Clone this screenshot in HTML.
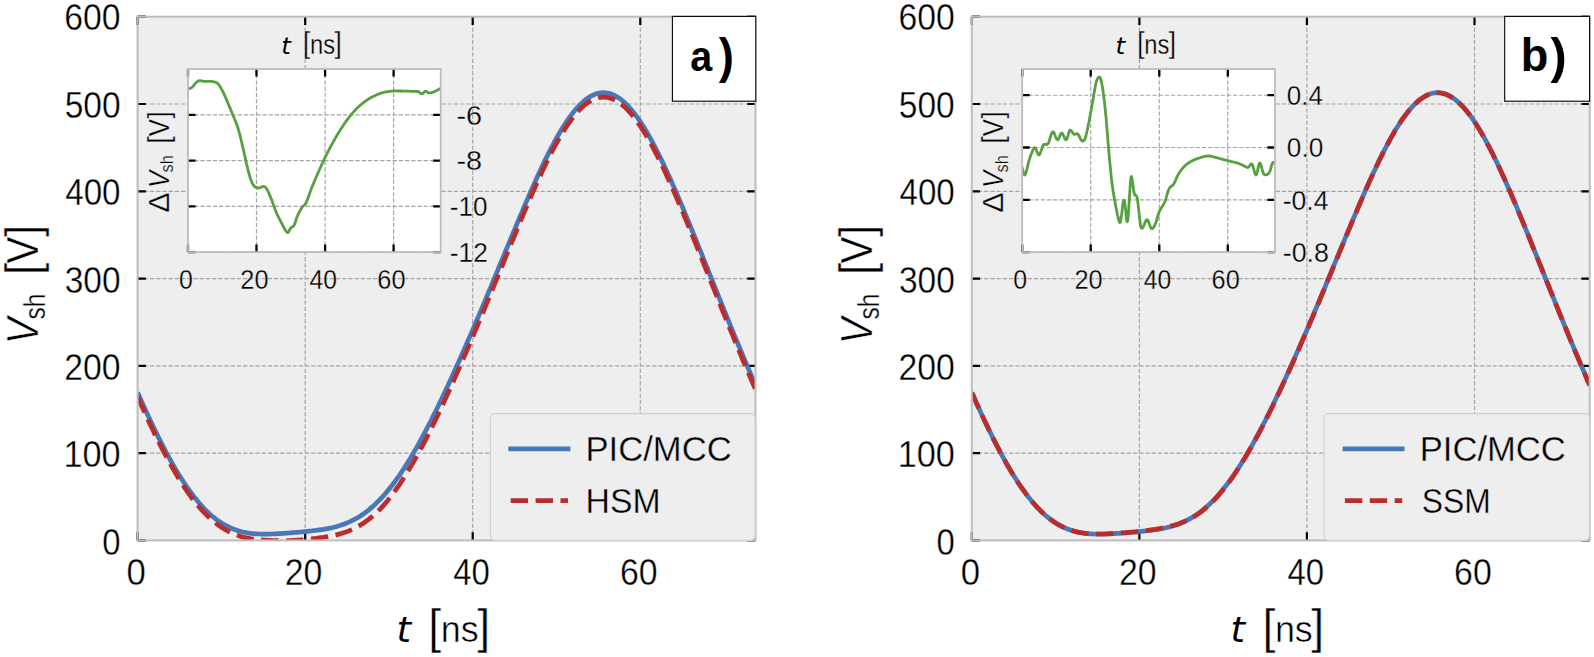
<!DOCTYPE html>
<html lang="en"><head><meta charset="utf-8"><title>Sheath voltage: PIC/MCC vs HSM and SSM</title>
<style>
html,body{margin:0;padding:0;background:#fff;}
body{width:1594px;height:657px;overflow:hidden;}
svg{display:block;font-family:"Liberation Sans",sans-serif;}
</style></head><body>
<svg width="1594" height="657" viewBox="0 0 1594 657">
<rect width="1594" height="657" fill="#fff"/>
<g id="panel-a">
<rect x="137.6" y="16.7" width="617.9" height="523.7" fill="#eeeeee"/>
<path d="M305.2,540.4V16.7M472.7,540.4V16.7M640.3,540.4V16.7M137.6,453.1H755.5M137.6,365.8H755.5M137.6,278.6H755.5M137.6,191.3H755.5M137.6,104.0H755.5" stroke="#a4a4a4" stroke-width="1.15" stroke-dasharray="4.3 1.9" fill="none"/>
<path d="M137.6,540.4v-8.2M137.6,16.7v8.2M305.2,540.4v-8.2M305.2,16.7v8.2M472.7,540.4v-8.2M472.7,16.7v8.2M640.3,540.4v-8.2M640.3,16.7v8.2M137.6,540.4h8.2M755.5,540.4h-8.2M137.6,453.1h8.2M755.5,453.1h-8.2M137.6,365.8h8.2M755.5,365.8h-8.2M137.6,278.6h8.2M755.5,278.6h-8.2M137.6,191.3h8.2M755.5,191.3h-8.2M137.6,104.0h8.2M755.5,104.0h-8.2M137.6,16.7h8.2M755.5,16.7h-8.2" stroke="#000" stroke-width="2.2" fill="none"/>
<clipPath id="clipa"><rect x="137.6" y="16.7" width="617.9" height="523.7"/></clipPath>
<g clip-path="url(#clipa)" fill="none" stroke-linejoin="round">
<path d="M137.6,392.5 L139.7,397.1 L141.7,401.8 L143.8,406.3 L145.9,410.9 L147.9,415.4 L150.0,419.8 L152.1,424.2 L154.1,428.5 L156.2,432.8 L158.3,437.0 L160.3,441.1 L162.4,445.1 L164.5,449.1 L166.5,453.0 L168.6,456.9 L170.7,460.6 L172.7,464.3 L174.8,467.9 L176.9,471.4 L178.9,474.8 L181.0,478.1 L183.1,481.3 L185.1,484.4 L187.2,487.5 L189.3,490.4 L191.3,493.2 L193.4,496.0 L195.5,498.6 L197.5,501.1 L199.6,503.6 L201.7,505.9 L203.7,508.1 L205.8,510.2 L207.9,512.2 L209.9,514.2 L212.0,516.0 L214.1,517.7 L216.1,519.3 L218.2,520.8 L220.3,522.2 L222.3,523.5 L224.4,524.7 L226.5,525.9 L228.5,526.9 L230.6,527.9 L232.7,528.7 L234.7,529.5 L236.8,530.3 L238.9,530.9 L240.9,531.5 L243.0,532.0 L245.1,532.4 L247.1,532.8 L249.2,533.1 L251.3,533.4 L253.3,533.6 L255.4,533.8 L257.5,533.9 L259.5,534.0 L261.6,534.1 L263.7,534.1 L265.7,534.1 L267.8,534.1 L269.9,534.1 L271.9,534.0 L274.0,533.9 L276.1,533.8 L278.1,533.7 L280.2,533.6 L282.3,533.4 L284.3,533.3 L286.4,533.1 L288.5,533.0 L290.5,532.8 L292.6,532.6 L294.7,532.5 L296.7,532.3 L298.8,532.1 L300.9,532.0 L302.9,531.8 L305.0,531.6 L307.1,531.4 L309.1,531.2 L311.2,531.0 L313.3,530.7 L315.3,530.5 L317.4,530.2 L319.5,529.9 L321.5,529.6 L323.6,529.3 L325.7,528.9 L327.7,528.6 L329.8,528.1 L331.9,527.7 L333.9,527.2 L336.0,526.7 L338.1,526.1 L340.1,525.4 L342.2,524.7 L344.3,524.0 L346.3,523.2 L348.4,522.3 L350.5,521.4 L352.5,520.4 L354.6,519.3 L356.7,518.2 L358.7,517.0 L360.8,515.7 L362.9,514.3 L364.9,512.8 L367.0,511.3 L369.1,509.6 L371.1,507.9 L373.2,506.1 L375.3,504.2 L377.3,502.2 L379.4,500.1 L381.5,498.0 L383.5,495.7 L385.6,493.3 L387.7,490.9 L389.7,488.3 L391.8,485.7 L393.9,483.0 L395.9,480.2 L398.0,477.3 L400.1,474.3 L402.1,471.2 L404.2,468.1 L406.3,464.9 L408.3,461.5 L410.4,458.2 L412.5,454.7 L414.5,451.2 L416.6,447.6 L418.7,443.9 L420.7,440.1 L422.8,436.3 L424.9,432.4 L426.9,428.5 L429.0,424.5 L431.1,420.5 L433.1,416.4 L435.2,412.2 L437.3,408.0 L439.3,403.8 L441.4,399.5 L443.5,395.1 L445.5,390.8 L447.6,386.3 L449.6,381.9 L451.7,377.4 L453.8,372.8 L455.8,368.3 L457.9,363.7 L460.0,359.0 L462.0,354.4 L464.1,349.7 L466.2,345.0 L468.2,340.2 L470.3,335.5 L472.4,330.7 L474.4,325.9 L476.5,321.0 L478.6,316.2 L480.6,311.3 L482.7,306.4 L484.8,301.5 L486.8,296.6 L488.9,291.6 L491.0,286.7 L493.0,281.7 L495.1,276.7 L497.2,271.7 L499.2,266.7 L501.3,261.7 L503.4,256.7 L505.4,251.7 L507.5,246.7 L509.6,241.7 L511.6,236.7 L513.7,231.8 L515.8,226.8 L517.8,221.9 L519.9,217.0 L522.0,212.1 L524.0,207.2 L526.1,202.4 L528.2,197.6 L530.2,192.8 L532.3,188.1 L534.4,183.5 L536.4,178.9 L538.5,174.3 L540.6,169.9 L542.6,165.5 L544.7,161.1 L546.8,156.9 L548.8,152.8 L550.9,148.7 L553.0,144.8 L555.0,140.9 L557.1,137.2 L559.2,133.5 L561.2,130.0 L563.3,126.7 L565.4,123.4 L567.4,120.3 L569.5,117.4 L571.6,114.6 L573.6,111.9 L575.7,109.4 L577.8,107.1 L579.8,104.9 L581.9,102.9 L584.0,101.0 L586.0,99.4 L588.1,97.9 L590.2,96.6 L592.2,95.5 L594.3,94.6 L596.4,93.8 L598.4,93.3 L600.5,92.9 L602.6,92.7 L604.6,92.7 L606.7,93.0 L608.8,93.4 L610.8,93.9 L612.9,94.7 L615.0,95.7 L617.0,96.8 L619.1,98.2 L621.2,99.7 L623.2,101.4 L625.3,103.2 L627.4,105.3 L629.4,107.5 L631.5,109.9 L633.6,112.4 L635.6,115.1 L637.7,117.9 L639.8,120.9 L641.8,124.1 L643.9,127.3 L646.0,130.7 L648.0,134.3 L650.1,137.9 L652.2,141.7 L654.2,145.6 L656.3,149.6 L658.4,153.7 L660.4,157.8 L662.5,162.1 L664.6,166.5 L666.6,170.9 L668.7,175.5 L670.8,180.1 L672.8,184.7 L674.9,189.4 L677.0,194.2 L679.0,199.0 L681.1,203.9 L683.2,208.8 L685.2,213.8 L687.3,218.8 L689.4,223.8 L691.4,228.8 L693.5,233.9 L695.6,239.0 L697.6,244.1 L699.7,249.3 L701.8,254.4 L703.8,259.5 L705.9,264.7 L708.0,269.9 L710.0,275.0 L712.1,280.2 L714.2,285.3 L716.2,290.5 L718.3,295.6 L720.4,300.8 L722.4,305.9 L724.5,311.0 L726.6,316.1 L728.6,321.2 L730.7,326.3 L732.8,331.3 L734.8,336.4 L736.9,341.4 L739.0,346.3 L741.0,351.3 L743.1,356.2 L745.2,361.1 L747.2,366.0 L749.3,370.8 L751.4,375.6 L753.4,380.4 L755.5,385.1" stroke="#4878b8" stroke-width="4.7"/>
<path d="M137.6,396.7 L139.7,401.4 L141.7,406.0 L143.8,410.6 L145.9,415.1 L147.9,419.6 L150.0,424.0 L152.1,428.3 L154.1,432.6 L156.2,436.8 L158.3,441.0 L160.3,445.1 L162.4,449.1 L164.5,453.1 L166.5,457.0 L168.6,460.8 L170.7,464.6 L172.7,468.2 L174.8,471.8 L176.9,475.3 L178.9,478.7 L181.0,482.1 L183.1,485.3 L185.1,488.4 L187.2,491.4 L189.3,494.4 L191.3,497.2 L193.4,499.9 L195.5,502.6 L197.5,505.1 L199.6,507.5 L201.7,509.9 L203.7,512.1 L205.8,514.2 L207.9,516.3 L209.9,518.2 L212.0,520.0 L214.1,521.8 L216.1,523.4 L218.2,525.0 L220.3,526.5 L222.3,527.8 L224.4,529.1 L226.5,530.3 L228.5,531.5 L230.6,532.5 L232.7,533.4 L234.7,534.3 L236.8,535.1 L238.9,535.8 L240.9,536.5 L243.0,537.1 L245.1,537.6 L247.1,538.0 L249.2,538.4 L251.3,538.8 L253.3,539.1 L255.4,539.4 L257.5,539.6 L259.5,539.8 L261.6,539.9 L263.7,540.1 L265.7,540.2 L267.8,540.3 L269.9,540.4 L271.9,540.5 L274.0,540.5 L276.1,540.6 L278.1,540.6 L280.2,540.6 L282.3,540.6 L284.3,540.6 L286.4,540.6 L288.5,540.5 L290.5,540.5 L292.6,540.4 L294.7,540.3 L296.7,540.2 L298.8,540.1 L300.9,539.9 L302.9,539.8 L305.0,539.6 L307.1,539.4 L309.1,539.2 L311.2,539.0 L313.3,538.7 L315.3,538.5 L317.4,538.2 L319.5,537.9 L321.5,537.6 L323.6,537.3 L325.7,536.9 L327.7,536.6 L329.8,536.2 L331.9,535.8 L333.9,535.4 L336.0,534.9 L338.1,534.4 L340.1,533.8 L342.2,533.2 L344.3,532.6 L346.3,531.9 L348.4,531.1 L350.5,530.2 L352.5,529.3 L354.6,528.3 L356.7,527.2 L358.7,526.1 L360.8,524.9 L362.9,523.5 L364.9,522.1 L367.0,520.6 L369.1,519.1 L371.1,517.4 L373.2,515.7 L375.3,513.8 L377.3,511.9 L379.4,509.8 L381.5,507.7 L383.5,505.4 L385.6,503.0 L387.7,500.5 L389.7,497.9 L391.8,495.2 L393.9,492.5 L395.9,489.7 L398.0,486.7 L400.1,483.6 L402.1,480.5 L404.2,477.2 L406.3,473.9 L408.3,470.5 L410.4,467.1 L412.5,463.6 L414.5,460.0 L416.6,456.3 L418.7,452.6 L420.7,448.8 L422.8,445.0 L424.9,441.1 L426.9,437.1 L429.0,433.0 L431.1,428.9 L433.1,424.7 L435.2,420.4 L437.3,416.2 L439.3,411.8 L441.4,407.4 L443.5,403.0 L445.5,398.6 L447.6,394.1 L449.6,389.5 L451.7,385.0 L453.8,380.4 L455.8,375.7 L457.9,371.0 L460.0,366.3 L462.0,361.6 L464.1,356.9 L466.2,352.1 L468.2,347.3 L470.3,342.4 L472.4,337.6 L474.4,332.7 L476.5,327.8 L478.6,322.9 L480.6,317.9 L482.7,313.0 L484.8,308.0 L486.8,303.0 L488.9,298.0 L491.0,293.0 L493.0,287.9 L495.1,282.9 L497.2,277.9 L499.2,272.8 L501.3,267.8 L503.4,262.7 L505.4,257.7 L507.5,252.6 L509.6,247.6 L511.6,242.5 L513.7,237.5 L515.8,232.5 L517.8,227.5 L519.9,222.5 L522.0,217.6 L524.0,212.7 L526.1,207.8 L528.2,203.0 L530.2,198.2 L532.3,193.4 L534.4,188.7 L536.4,184.1 L538.5,179.5 L540.6,175.0 L542.6,170.6 L544.7,166.2 L546.8,162.0 L548.8,157.8 L550.9,153.7 L553.0,149.7 L555.0,145.8 L557.1,142.1 L559.2,138.4 L561.2,134.9 L563.3,131.5 L565.4,128.2 L567.4,125.1 L569.5,122.1 L571.6,119.3 L573.6,116.6 L575.7,114.1 L577.8,111.7 L579.8,109.5 L581.9,107.5 L584.0,105.6 L586.0,104.0 L588.1,102.5 L590.2,101.1 L592.2,100.0 L594.3,99.1 L596.4,98.3 L598.4,97.7 L600.5,97.4 L602.6,97.2 L604.6,97.2 L606.7,97.4 L608.8,97.8 L610.8,98.4 L612.9,99.1 L615.0,100.1 L617.0,101.2 L619.1,102.5 L621.2,104.1 L623.2,105.7 L625.3,107.6 L627.4,109.6 L629.4,111.8 L631.5,114.2 L633.6,116.7 L635.6,119.4 L637.7,122.3 L639.8,125.3 L641.8,128.4 L643.9,131.7 L646.0,135.1 L648.0,138.6 L650.1,142.2 L652.2,146.0 L654.2,149.9 L656.3,153.9 L658.4,158.0 L660.4,162.2 L662.5,166.5 L664.6,170.8 L666.6,175.3 L668.7,179.8 L670.8,184.4 L672.8,189.1 L674.9,193.8 L677.0,198.5 L679.0,203.4 L681.1,208.2 L683.2,213.2 L685.2,218.1 L687.3,223.1 L689.4,228.1 L691.4,233.2 L693.5,238.3 L695.6,243.4 L697.6,248.5 L699.7,253.6 L701.8,258.8 L703.8,263.9 L705.9,269.1 L708.0,274.3 L710.0,279.5 L712.1,284.6 L714.2,289.7 L716.2,294.8 L718.3,300.0 L720.4,305.1 L722.4,310.3 L724.5,315.4 L726.6,320.5 L728.6,325.6 L730.7,330.7 L732.8,335.7 L734.8,340.7 L736.9,345.7 L739.0,350.7 L741.0,355.6 L743.1,360.6 L745.2,365.4 L747.2,370.3 L749.3,375.1 L751.4,379.9 L753.4,384.6 L755.5,389.3" stroke="#bb2c2c" stroke-width="4.7" stroke-dasharray="17.4 7.5"/>
</g>
<rect x="137.6" y="16.7" width="617.9" height="523.7" fill="none" stroke="#bcbcbc" stroke-width="2.0"/>
<text transform="translate(102.28,554.50) scale(0.8879,1)" font-size="37.03" fill="#000" stroke="#fff" stroke-width="0.35">0</text>
<text transform="translate(63.43,467.22) scale(0.9256,1)" font-size="37.03" fill="#000" stroke="#fff" stroke-width="0.35">100</text>
<text transform="translate(64.31,379.93) scale(0.9110,1)" font-size="37.03" fill="#000" stroke="#fff" stroke-width="0.35">200</text>
<text transform="translate(64.74,292.65) scale(0.9038,1)" font-size="37.03" fill="#000" stroke="#fff" stroke-width="0.35">300</text>
<text transform="translate(65.25,205.37) scale(0.8954,1)" font-size="37.03" fill="#000" stroke="#fff" stroke-width="0.35">400</text>
<text transform="translate(64.66,118.08) scale(0.9052,1)" font-size="37.03" fill="#000" stroke="#fff" stroke-width="0.35">500</text>
<text transform="translate(64.31,30.00) scale(0.9110,1)" font-size="37.03" fill="#000" stroke="#fff" stroke-width="0.35">600</text>
<text transform="translate(126.51,584.90) scale(0.9388,1)" font-size="37.03" fill="#000" stroke="#fff" stroke-width="0.35">0</text>
<text transform="translate(284.77,584.90) scale(0.9138,1)" font-size="37.03" fill="#000" stroke="#fff" stroke-width="0.35">20</text>
<text transform="translate(453.29,584.90) scale(0.8898,1)" font-size="37.03" fill="#000" stroke="#fff" stroke-width="0.35">40</text>
<text transform="translate(619.91,584.90) scale(0.9138,1)" font-size="37.03" fill="#000" stroke="#fff" stroke-width="0.35">60</text>
<text transform="translate(396.38,642.40) scale(1.0289,1)" font-size="36.16" font-style="italic" font-family="DejaVu Sans, Liberation Sans, sans-serif" fill="#000">t</text>
<text transform="translate(431.50,642.20) scale(0.9650,1)" stroke="#fff" stroke-width="0.5"><tspan x="-3.38" y="1.19" font-size="48.26">[</tspan><tspan x="9.51" y="0.00" font-size="37.21">ns</tspan><tspan x="47.29" y="1.19" font-size="48.26">]</tspan></text>
<text transform="translate(37.80,344.17) rotate(-90) scale(0.8832,1)" font-size="44.95" font-style="italic" fill="#000" stroke="#fff" stroke-width="0.5">V</text>
<text transform="translate(45.10,319.58) rotate(-90) scale(0.8205,1)" font-size="29.93" fill="#000" stroke="#fff" stroke-width="0.35">sh</text>
<text transform="translate(37.80,271.80) rotate(-90) scale(0.9035,1)" stroke="#fff" stroke-width="0.5"><tspan x="-3.38" y="1.19" font-size="48.26">[</tspan><tspan x="8.96" y="0.00" font-size="44.95">V</tspan><tspan x="38.58" y="1.19" font-size="48.26">]</tspan></text>
<rect x="188.0" y="69.0" width="252.7" height="183.1" fill="#fff"/>
<path d="M256.5,252.1V69.0M325.1,252.1V69.0M393.6,252.1V69.0M188.0,114.8H440.7M188.0,160.6H440.7M188.0,206.3H440.7M188.0,252.1H440.7" stroke="#a4a4a4" stroke-width="1.15" stroke-dasharray="4.3 1.9" fill="none"/>
<clipPath id="iclipa"><rect x="188.0" y="69.0" width="252.7" height="183.1"/></clipPath>
<path clip-path="url(#iclipa)" d="M188.0,88.5 L188.4,88.6 L188.8,88.6 L189.3,88.5 L189.7,88.5 L190.1,88.4 L190.5,88.2 L191.0,88.0 L191.4,87.8 L191.8,87.5 L192.2,87.2 L192.6,86.7 L193.1,86.3 L193.5,85.7 L193.9,85.2 L194.3,84.6 L194.7,84.1 L195.2,83.6 L195.6,83.2 L196.0,82.8 L196.4,82.4 L196.9,82.1 L197.3,81.7 L197.7,81.4 L198.1,81.1 L198.5,80.9 L199.0,80.8 L199.4,80.7 L199.8,80.7 L200.2,80.7 L200.7,80.8 L201.1,80.8 L201.5,80.9 L201.9,81.0 L202.3,81.1 L202.8,81.1 L203.2,81.2 L203.6,81.3 L204.0,81.3 L204.5,81.3 L204.9,81.3 L205.3,81.3 L205.7,81.3 L206.1,81.3 L206.6,81.3 L207.0,81.3 L207.4,81.3 L207.8,81.3 L208.2,81.3 L208.7,81.3 L209.1,81.3 L209.5,81.3 L209.9,81.3 L210.4,81.3 L210.8,81.3 L211.2,81.3 L211.6,81.4 L212.0,81.4 L212.5,81.5 L212.9,81.6 L213.3,81.7 L213.7,81.8 L214.2,81.9 L214.6,82.0 L215.0,82.1 L215.4,82.2 L215.8,82.4 L216.3,82.5 L216.7,82.7 L217.1,83.0 L217.5,83.4 L218.0,83.8 L218.4,84.2 L218.8,84.7 L219.2,85.3 L219.6,85.9 L220.1,86.6 L220.5,87.3 L220.9,88.0 L221.3,88.8 L221.7,89.5 L222.2,90.3 L222.6,91.1 L223.0,92.0 L223.4,92.8 L223.9,93.7 L224.3,94.6 L224.7,95.5 L225.1,96.5 L225.5,97.5 L226.0,98.4 L226.4,99.4 L226.8,100.4 L227.2,101.4 L227.7,102.4 L228.1,103.4 L228.5,104.4 L228.9,105.4 L229.3,106.5 L229.8,107.5 L230.2,108.5 L230.6,109.5 L231.0,110.6 L231.5,111.6 L231.9,112.6 L232.3,113.7 L232.7,114.7 L233.1,115.7 L233.6,116.7 L234.0,117.7 L234.4,118.7 L234.8,119.7 L235.2,120.7 L235.7,121.8 L236.1,122.8 L236.5,123.9 L236.9,125.1 L237.4,126.3 L237.8,127.5 L238.2,128.8 L238.6,130.2 L239.0,131.7 L239.5,133.3 L239.9,134.9 L240.3,136.6 L240.7,138.4 L241.2,140.2 L241.6,142.0 L242.0,143.8 L242.4,145.7 L242.8,147.5 L243.3,149.3 L243.7,151.1 L244.1,152.9 L244.5,154.8 L245.0,156.6 L245.4,158.5 L245.8,160.3 L246.2,162.2 L246.6,164.0 L247.1,165.8 L247.5,167.6 L247.9,169.4 L248.3,171.1 L248.7,172.8 L249.2,174.3 L249.6,175.8 L250.0,177.2 L250.4,178.5 L250.9,179.7 L251.3,180.8 L251.7,181.9 L252.1,182.9 L252.5,183.7 L253.0,184.5 L253.4,185.2 L253.8,185.7 L254.2,186.2 L254.7,186.6 L255.1,186.9 L255.5,187.1 L255.9,187.3 L256.3,187.5 L256.8,187.6 L257.2,187.8 L257.6,187.8 L258.0,187.9 L258.5,187.9 L258.9,188.0 L259.3,187.9 L259.7,187.8 L260.1,187.7 L260.6,187.5 L261.0,187.3 L261.4,187.1 L261.8,186.9 L262.2,186.7 L262.7,186.6 L263.1,186.5 L263.5,186.4 L263.9,186.5 L264.4,186.6 L264.8,186.8 L265.2,187.0 L265.6,187.4 L266.0,187.9 L266.5,188.4 L266.9,189.1 L267.3,189.9 L267.7,190.8 L268.2,191.7 L268.6,192.6 L269.0,193.6 L269.4,194.5 L269.8,195.5 L270.3,196.5 L270.7,197.6 L271.1,198.6 L271.5,199.7 L272.0,200.7 L272.4,201.8 L272.8,203.0 L273.2,204.1 L273.6,205.3 L274.1,206.4 L274.5,207.6 L274.9,208.8 L275.3,209.9 L275.7,211.0 L276.2,212.0 L276.6,213.1 L277.0,214.0 L277.4,215.0 L277.9,215.9 L278.3,216.8 L278.7,217.6 L279.1,218.4 L279.5,219.3 L280.0,220.1 L280.4,220.8 L280.8,221.6 L281.2,222.4 L281.7,223.2 L282.1,224.0 L282.5,224.8 L282.9,225.6 L283.3,226.5 L283.8,227.3 L284.2,228.1 L284.6,228.9 L285.0,229.6 L285.5,230.3 L285.9,231.0 L286.3,231.5 L286.7,232.0 L287.1,232.3 L287.6,232.6 L288.0,232.5 L288.4,232.1 L288.8,231.5 L289.2,230.7 L289.7,229.8 L290.1,229.0 L290.5,228.2 L290.9,227.7 L291.4,227.4 L291.8,227.2 L292.2,227.0 L292.6,226.8 L293.0,226.6 L293.5,226.2 L293.9,225.7 L294.3,224.8 L294.7,223.8 L295.2,222.6 L295.6,221.3 L296.0,220.0 L296.4,218.6 L296.8,217.4 L297.3,216.3 L297.7,215.3 L298.1,214.5 L298.5,213.6 L299.0,212.8 L299.4,211.9 L299.8,211.1 L300.2,210.4 L300.6,209.6 L301.1,208.9 L301.5,208.2 L301.9,207.5 L302.3,206.8 L302.7,206.4 L303.2,206.0 L303.6,205.7 L304.0,205.4 L304.4,205.1 L304.9,204.7 L305.3,204.2 L305.7,203.5 L306.1,202.7 L306.5,201.7 L307.0,200.7 L307.4,199.6 L307.8,198.5 L308.2,197.4 L308.7,196.2 L309.1,195.0 L309.5,193.8 L309.9,192.6 L310.3,191.4 L310.8,190.2 L311.2,189.1 L311.6,188.0 L312.0,186.9 L312.5,185.9 L312.9,184.9 L313.3,183.9 L313.7,182.9 L314.1,181.9 L314.6,181.0 L315.0,180.0 L315.4,179.0 L315.8,178.0 L316.2,177.0 L316.7,176.1 L317.1,175.1 L317.5,174.1 L317.9,173.1 L318.4,172.2 L318.8,171.2 L319.2,170.3 L319.6,169.3 L320.0,168.4 L320.5,167.4 L320.9,166.5 L321.3,165.5 L321.7,164.6 L322.2,163.7 L322.6,162.8 L323.0,161.9 L323.4,161.0 L323.8,160.1 L324.3,159.2 L324.7,158.3 L325.1,157.5 L325.5,156.6 L326.0,155.8 L326.4,154.9 L326.8,154.1 L327.2,153.2 L327.6,152.4 L328.1,151.6 L328.5,150.8 L328.9,149.9 L329.3,149.1 L329.7,148.3 L330.2,147.5 L330.6,146.7 L331.0,145.9 L331.4,145.2 L331.9,144.4 L332.3,143.6 L332.7,142.8 L333.1,142.1 L333.5,141.3 L334.0,140.6 L334.4,139.8 L334.8,139.1 L335.2,138.3 L335.7,137.6 L336.1,136.9 L336.5,136.2 L336.9,135.4 L337.3,134.7 L337.8,134.0 L338.2,133.3 L338.6,132.6 L339.0,132.0 L339.5,131.3 L339.9,130.6 L340.3,129.9 L340.7,129.3 L341.1,128.6 L341.6,127.9 L342.0,127.3 L342.4,126.7 L342.8,126.0 L343.2,125.4 L343.7,124.8 L344.1,124.2 L344.5,123.5 L344.9,122.9 L345.4,122.3 L345.8,121.7 L346.2,121.2 L346.6,120.6 L347.0,120.0 L347.5,119.4 L347.9,118.9 L348.3,118.3 L348.7,117.8 L349.2,117.2 L349.6,116.7 L350.0,116.2 L350.4,115.6 L350.8,115.1 L351.3,114.6 L351.7,114.1 L352.1,113.6 L352.5,113.1 L353.0,112.6 L353.4,112.1 L353.8,111.7 L354.2,111.2 L354.6,110.7 L355.1,110.3 L355.5,109.8 L355.9,109.4 L356.3,109.0 L356.7,108.5 L357.2,108.1 L357.6,107.7 L358.0,107.3 L358.4,106.9 L358.9,106.5 L359.3,106.1 L359.7,105.7 L360.1,105.4 L360.5,105.0 L361.0,104.7 L361.4,104.3 L361.8,104.0 L362.2,103.6 L362.7,103.3 L363.1,102.9 L363.5,102.6 L363.9,102.3 L364.3,102.0 L364.8,101.7 L365.2,101.4 L365.6,101.1 L366.0,100.8 L366.5,100.5 L366.9,100.2 L367.3,99.9 L367.7,99.6 L368.1,99.3 L368.6,99.1 L369.0,98.8 L369.4,98.6 L369.8,98.3 L370.2,98.1 L370.7,97.8 L371.1,97.6 L371.5,97.4 L371.9,97.1 L372.4,96.9 L372.8,96.7 L373.2,96.5 L373.6,96.3 L374.0,96.1 L374.5,95.9 L374.9,95.7 L375.3,95.5 L375.7,95.3 L376.2,95.1 L376.6,94.9 L377.0,94.7 L377.4,94.5 L377.8,94.3 L378.3,94.2 L378.7,94.0 L379.1,93.8 L379.5,93.7 L380.0,93.5 L380.4,93.4 L380.8,93.2 L381.2,93.1 L381.6,92.9 L382.1,92.8 L382.5,92.7 L382.9,92.6 L383.3,92.5 L383.7,92.4 L384.2,92.3 L384.6,92.2 L385.0,92.1 L385.4,92.0 L385.9,92.0 L386.3,91.9 L386.7,91.8 L387.1,91.8 L387.5,91.7 L388.0,91.6 L388.4,91.6 L388.8,91.5 L389.2,91.4 L389.7,91.4 L390.1,91.3 L390.5,91.3 L390.9,91.2 L391.3,91.2 L391.8,91.1 L392.2,91.1 L392.6,91.1 L393.0,91.0 L393.5,91.0 L393.9,91.0 L394.3,91.0 L394.7,90.9 L395.1,90.9 L395.6,90.9 L396.0,90.9 L396.4,90.9 L396.8,90.9 L397.2,90.9 L397.7,90.9 L398.1,91.0 L398.5,91.0 L398.9,91.0 L399.4,91.0 L399.8,91.0 L400.2,91.0 L400.6,91.0 L401.0,91.0 L401.5,91.0 L401.9,91.0 L402.3,91.1 L402.7,91.1 L403.2,91.1 L403.6,91.1 L404.0,91.1 L404.4,91.1 L404.8,91.1 L405.3,91.1 L405.7,91.1 L406.1,91.2 L406.5,91.2 L407.0,91.2 L407.4,91.2 L407.8,91.2 L408.2,91.2 L408.6,91.2 L409.1,91.2 L409.5,91.2 L409.9,91.3 L410.3,91.3 L410.7,91.3 L411.2,91.3 L411.6,91.3 L412.0,91.3 L412.4,91.3 L412.9,91.3 L413.3,91.4 L413.7,91.4 L414.1,91.4 L414.5,91.4 L415.0,91.4 L415.4,91.4 L415.8,91.4 L416.2,91.5 L416.7,91.5 L417.1,91.5 L417.5,91.5 L417.9,91.5 L418.3,91.6 L418.8,91.8 L419.2,92.1 L419.6,92.4 L420.0,92.8 L420.5,93.2 L420.9,93.6 L421.3,93.8 L421.7,93.9 L422.1,93.9 L422.6,93.7 L423.0,93.3 L423.4,92.9 L423.8,92.4 L424.2,92.0 L424.7,91.6 L425.1,91.3 L425.5,91.2 L425.9,91.3 L426.4,91.5 L426.8,91.7 L427.2,92.0 L427.6,92.3 L428.0,92.6 L428.5,92.8 L428.9,93.0 L429.3,93.1 L429.7,93.0 L430.2,92.9 L430.6,92.8 L431.0,92.8 L431.4,92.7 L431.8,92.6 L432.3,92.4 L432.7,92.3 L433.1,92.2 L433.5,92.0 L434.0,91.8 L434.4,91.7 L434.8,91.5 L435.2,91.2 L435.6,91.0 L436.1,90.8 L436.5,90.6 L436.9,90.4 L437.3,90.2 L437.7,90.0 L438.2,89.7 L438.6,89.5 L439.0,89.3 L439.4,89.0 L439.9,88.8 L440.3,88.5 L440.7,88.2" stroke="#55a040" stroke-width="2.8" fill="none" stroke-linejoin="round"/>
<path d="M188.0,252.1v-7.5M188.0,69.0v7.5M256.5,252.1v-7.5M256.5,69.0v7.5M325.1,252.1v-7.5M325.1,69.0v7.5M393.6,252.1v-7.5M393.6,69.0v7.5M188.0,114.8h7.5M440.7,114.8h-7.5M188.0,160.6h7.5M440.7,160.6h-7.5M188.0,206.3h7.5M440.7,206.3h-7.5M188.0,252.1h7.5M440.7,252.1h-7.5" stroke="#000" stroke-width="2.3" fill="none"/>
<rect x="188.0" y="69.0" width="252.7" height="183.1" fill="none" stroke="#bcbcbc" stroke-width="1.8"/>
<text transform="translate(179.05,288.80) scale(0.9183,1)" font-size="27.14" fill="#000" stroke="#eeeeee" stroke-width="0.3">0</text>
<text transform="translate(240.31,288.80) scale(0.9334,1)" font-size="27.14" fill="#000" stroke="#eeeeee" stroke-width="0.3">20</text>
<text transform="translate(309.55,288.80) scale(0.9089,1)" font-size="27.14" fill="#000" stroke="#eeeeee" stroke-width="0.3">40</text>
<text transform="translate(377.37,288.80) scale(0.9334,1)" font-size="27.14" fill="#000" stroke="#eeeeee" stroke-width="0.3">60</text>
<text transform="translate(456.40,124.68) scale(1.0640,1)" font-size="27.14" fill="#000" stroke="#eeeeee" stroke-width="0.3">-6</text>
<text transform="translate(456.40,170.45) scale(1.0640,1)" font-size="27.14" fill="#000" stroke="#eeeeee" stroke-width="0.3">-8</text>
<text transform="translate(449.82,216.22) scale(0.9628,1)" font-size="27.14" fill="#000" stroke="#eeeeee" stroke-width="0.3">-10</text>
<text transform="translate(449.81,262.00) scale(0.9717,1)" font-size="27.14" fill="#000" stroke="#eeeeee" stroke-width="0.3">-12</text>
<text transform="translate(281.30,53.60) scale(1.0480,1)" font-size="23.49" font-style="italic" font-family="DejaVu Sans, Liberation Sans, sans-serif" fill="#000">t</text>
<text transform="translate(304.90,53.50) scale(0.8735,1)" stroke="#eeeeee" stroke-width="0.3"><tspan x="-2.08" y="-0.06" font-size="29.71">[</tspan><tspan x="5.95" y="0.00" font-size="27.16">ns</tspan><tspan x="34.02" y="-0.06" font-size="29.71">]</tspan></text>
<text transform="translate(169.10,212.72) rotate(-90) scale(1.0318,1)" font-size="29.67" fill="#000" stroke="#eeeeee" stroke-width="0.3">Δ</text>
<text transform="translate(169.10,188.04) rotate(-90) scale(0.8611,1)" font-size="29.67" font-style="italic" fill="#000" stroke="#eeeeee" stroke-width="0.3">V</text>
<text transform="translate(173.30,172.55) rotate(-90) scale(0.8728,1)" font-size="18.76" fill="#000" stroke="#eeeeee" stroke-width="0.25">sh</text>
<text transform="translate(169.10,141.60) rotate(-90) scale(0.8714,1)" stroke="#eeeeee" stroke-width="0.3"><tspan x="-2.08" y="-0.06" font-size="29.71">[</tspan><tspan x="6.05" y="0.00" font-size="29.67">V</tspan><tspan x="26.43" y="-0.06" font-size="29.71">]</tspan></text>
<rect x="490.4" y="413.7" width="264.7" height="126.6" rx="4.5" fill="#eeeeee" stroke="#d0d0d0" stroke-width="1.2"/>
<path d="M508.3,448.9H570.4" stroke="#4878b8" stroke-width="4.7"/>
<path d="M510.7,500.6H568.0" stroke="#bb2c2c" stroke-width="4.7" stroke-dasharray="17.4 7.5"/>
<text transform="translate(585.54,461.00) scale(0.9634,1)" font-size="35.93" fill="#000" stroke="#eeeeee" stroke-width="0.35">PIC/MCC</text>
<text transform="translate(585.61,512.60) scale(0.9402,1)" font-size="35.93" fill="#000" stroke="#eeeeee" stroke-width="0.35">HSM</text>
<rect x="672.4" y="16.4" width="83.4" height="84.8" fill="#fff" stroke="#000" stroke-width="1.1"/>
<text transform="translate(691.40,71.00) scale(0.9149,1)"><tspan x="-1.29" y="0.00" font-size="43.11" font-weight="bold">a</tspan><tspan x="29.99" y="1.58" font-size="49.76" font-weight="bold">)</tspan></text>
</g>
<g id="panel-b">
<rect x="971.8" y="16.7" width="617.9" height="523.7" fill="#eeeeee"/>
<path d="M1139.4,540.4V16.7M1306.9,540.4V16.7M1474.5,540.4V16.7M971.8,453.1H1589.7M971.8,365.8H1589.7M971.8,278.6H1589.7M971.8,191.3H1589.7M971.8,104.0H1589.7" stroke="#a4a4a4" stroke-width="1.15" stroke-dasharray="4.3 1.9" fill="none"/>
<path d="M971.8,540.4v-8.2M971.8,16.7v8.2M1139.4,540.4v-8.2M1139.4,16.7v8.2M1306.9,540.4v-8.2M1306.9,16.7v8.2M1474.5,540.4v-8.2M1474.5,16.7v8.2M971.8,540.4h8.2M1589.7,540.4h-8.2M971.8,453.1h8.2M1589.7,453.1h-8.2M971.8,365.8h8.2M1589.7,365.8h-8.2M971.8,278.6h8.2M1589.7,278.6h-8.2M971.8,191.3h8.2M1589.7,191.3h-8.2M971.8,104.0h8.2M1589.7,104.0h-8.2M971.8,16.7h8.2M1589.7,16.7h-8.2" stroke="#000" stroke-width="2.2" fill="none"/>
<clipPath id="clipb"><rect x="971.8" y="16.7" width="617.9" height="523.7"/></clipPath>
<g clip-path="url(#clipb)" fill="none" stroke-linejoin="round">
<path d="M971.8,392.5 L973.9,397.1 L975.9,401.8 L978.0,406.3 L980.1,410.9 L982.1,415.4 L984.2,419.8 L986.3,424.2 L988.3,428.5 L990.4,432.8 L992.5,437.0 L994.5,441.1 L996.6,445.1 L998.7,449.1 L1000.7,453.0 L1002.8,456.9 L1004.9,460.6 L1006.9,464.3 L1009.0,467.9 L1011.1,471.4 L1013.1,474.8 L1015.2,478.1 L1017.3,481.3 L1019.3,484.4 L1021.4,487.5 L1023.5,490.4 L1025.5,493.2 L1027.6,496.0 L1029.7,498.6 L1031.7,501.1 L1033.8,503.6 L1035.9,505.9 L1037.9,508.1 L1040.0,510.2 L1042.1,512.2 L1044.1,514.2 L1046.2,516.0 L1048.3,517.7 L1050.3,519.3 L1052.4,520.8 L1054.5,522.2 L1056.5,523.5 L1058.6,524.7 L1060.7,525.9 L1062.7,526.9 L1064.8,527.9 L1066.9,528.7 L1068.9,529.5 L1071.0,530.3 L1073.1,530.9 L1075.1,531.5 L1077.2,532.0 L1079.3,532.4 L1081.3,532.8 L1083.4,533.1 L1085.5,533.4 L1087.5,533.6 L1089.6,533.8 L1091.7,533.9 L1093.7,534.0 L1095.8,534.1 L1097.9,534.1 L1099.9,534.1 L1102.0,534.1 L1104.1,534.1 L1106.1,534.0 L1108.2,533.9 L1110.3,533.8 L1112.3,533.7 L1114.4,533.6 L1116.5,533.4 L1118.5,533.3 L1120.6,533.1 L1122.7,533.0 L1124.7,532.8 L1126.8,532.6 L1128.9,532.5 L1130.9,532.3 L1133.0,532.1 L1135.1,532.0 L1137.1,531.8 L1139.2,531.6 L1141.3,531.4 L1143.3,531.2 L1145.4,531.0 L1147.5,530.7 L1149.5,530.5 L1151.6,530.2 L1153.7,529.9 L1155.7,529.6 L1157.8,529.3 L1159.9,528.9 L1161.9,528.6 L1164.0,528.1 L1166.1,527.7 L1168.1,527.2 L1170.2,526.7 L1172.3,526.1 L1174.3,525.4 L1176.4,524.7 L1178.5,524.0 L1180.5,523.2 L1182.6,522.3 L1184.7,521.4 L1186.7,520.4 L1188.8,519.3 L1190.9,518.2 L1192.9,517.0 L1195.0,515.7 L1197.1,514.3 L1199.1,512.8 L1201.2,511.3 L1203.3,509.6 L1205.3,507.9 L1207.4,506.1 L1209.5,504.2 L1211.5,502.2 L1213.6,500.1 L1215.7,498.0 L1217.7,495.7 L1219.8,493.3 L1221.9,490.9 L1223.9,488.3 L1226.0,485.7 L1228.1,483.0 L1230.1,480.2 L1232.2,477.3 L1234.3,474.3 L1236.3,471.2 L1238.4,468.1 L1240.5,464.9 L1242.5,461.5 L1244.6,458.2 L1246.7,454.7 L1248.7,451.2 L1250.8,447.6 L1252.9,443.9 L1254.9,440.1 L1257.0,436.3 L1259.1,432.4 L1261.1,428.5 L1263.2,424.5 L1265.3,420.5 L1267.3,416.4 L1269.4,412.2 L1271.5,408.0 L1273.5,403.8 L1275.6,399.5 L1277.7,395.1 L1279.7,390.8 L1281.8,386.3 L1283.8,381.9 L1285.9,377.4 L1288.0,372.8 L1290.0,368.3 L1292.1,363.7 L1294.2,359.0 L1296.2,354.4 L1298.3,349.7 L1300.4,345.0 L1302.4,340.2 L1304.5,335.5 L1306.6,330.7 L1308.6,325.9 L1310.7,321.0 L1312.8,316.2 L1314.8,311.3 L1316.9,306.4 L1319.0,301.5 L1321.0,296.6 L1323.1,291.6 L1325.2,286.7 L1327.2,281.7 L1329.3,276.7 L1331.4,271.7 L1333.4,266.7 L1335.5,261.7 L1337.6,256.7 L1339.6,251.7 L1341.7,246.7 L1343.8,241.7 L1345.8,236.7 L1347.9,231.8 L1350.0,226.8 L1352.0,221.9 L1354.1,217.0 L1356.2,212.1 L1358.2,207.2 L1360.3,202.4 L1362.4,197.6 L1364.4,192.8 L1366.5,188.1 L1368.6,183.5 L1370.6,178.9 L1372.7,174.3 L1374.8,169.9 L1376.8,165.5 L1378.9,161.1 L1381.0,156.9 L1383.0,152.8 L1385.1,148.7 L1387.2,144.8 L1389.2,140.9 L1391.3,137.2 L1393.4,133.5 L1395.4,130.0 L1397.5,126.7 L1399.6,123.4 L1401.6,120.3 L1403.7,117.4 L1405.8,114.6 L1407.8,111.9 L1409.9,109.4 L1412.0,107.1 L1414.0,104.9 L1416.1,102.9 L1418.2,101.0 L1420.2,99.4 L1422.3,97.9 L1424.4,96.6 L1426.4,95.5 L1428.5,94.6 L1430.6,93.8 L1432.6,93.3 L1434.7,92.9 L1436.8,92.7 L1438.8,92.7 L1440.9,93.0 L1443.0,93.4 L1445.0,93.9 L1447.1,94.7 L1449.2,95.7 L1451.2,96.8 L1453.3,98.2 L1455.4,99.7 L1457.4,101.4 L1459.5,103.2 L1461.6,105.3 L1463.6,107.5 L1465.7,109.9 L1467.8,112.4 L1469.8,115.1 L1471.9,117.9 L1474.0,120.9 L1476.0,124.1 L1478.1,127.3 L1480.2,130.7 L1482.2,134.3 L1484.3,137.9 L1486.4,141.7 L1488.4,145.6 L1490.5,149.6 L1492.6,153.7 L1494.6,157.8 L1496.7,162.1 L1498.8,166.5 L1500.8,170.9 L1502.9,175.5 L1505.0,180.1 L1507.0,184.7 L1509.1,189.4 L1511.2,194.2 L1513.2,199.0 L1515.3,203.9 L1517.4,208.8 L1519.4,213.8 L1521.5,218.8 L1523.6,223.8 L1525.6,228.8 L1527.7,233.9 L1529.8,239.0 L1531.8,244.1 L1533.9,249.3 L1536.0,254.4 L1538.0,259.5 L1540.1,264.7 L1542.2,269.9 L1544.2,275.0 L1546.3,280.2 L1548.4,285.3 L1550.4,290.5 L1552.5,295.6 L1554.6,300.8 L1556.6,305.9 L1558.7,311.0 L1560.8,316.1 L1562.8,321.2 L1564.9,326.3 L1567.0,331.3 L1569.0,336.4 L1571.1,341.4 L1573.2,346.3 L1575.2,351.3 L1577.3,356.2 L1579.4,361.1 L1581.4,366.0 L1583.5,370.8 L1585.6,375.6 L1587.6,380.4 L1589.7,385.1" stroke="#4878b8" stroke-width="4.7"/>
<path d="M971.8,392.6 L973.9,397.3 L975.9,401.9 L978.0,406.5 L980.1,411.1 L982.1,415.5 L984.2,419.9 L986.3,424.3 L988.3,428.6 L990.4,432.8 L992.5,437.0 L994.5,441.1 L996.6,445.2 L998.7,449.1 L1000.7,453.0 L1002.8,456.9 L1004.9,460.6 L1006.9,464.3 L1009.0,467.9 L1011.1,471.4 L1013.1,474.8 L1015.2,478.1 L1017.3,481.3 L1019.3,484.5 L1021.4,487.5 L1023.5,490.4 L1025.5,493.2 L1027.6,496.0 L1029.7,498.6 L1031.7,501.1 L1033.8,503.6 L1035.9,505.9 L1037.9,508.1 L1040.0,510.2 L1042.1,512.2 L1044.1,514.1 L1046.2,515.9 L1048.3,517.6 L1050.3,519.2 L1052.4,520.7 L1054.5,522.1 L1056.5,523.5 L1058.6,524.7 L1060.7,525.8 L1062.7,526.8 L1064.8,527.8 L1066.9,528.6 L1068.9,529.4 L1071.0,530.2 L1073.1,530.8 L1075.1,531.4 L1077.2,531.9 L1079.3,532.4 L1081.3,532.7 L1083.4,533.0 L1085.5,533.3 L1087.5,533.5 L1089.6,533.7 L1091.7,533.8 L1093.7,533.9 L1095.8,534.0 L1097.9,534.0 L1099.9,534.0 L1102.0,534.0 L1104.1,534.0 L1106.1,533.9 L1108.2,533.8 L1110.3,533.7 L1112.3,533.6 L1114.4,533.5 L1116.5,533.4 L1118.5,533.2 L1120.6,533.1 L1122.7,532.9 L1124.7,532.8 L1126.8,532.6 L1128.9,532.4 L1130.9,532.2 L1133.0,532.0 L1135.1,531.8 L1137.1,531.6 L1139.2,531.3 L1141.3,531.1 L1143.3,530.9 L1145.4,530.6 L1147.5,530.4 L1149.5,530.1 L1151.6,529.8 L1153.7,529.5 L1155.7,529.2 L1157.8,528.8 L1159.9,528.5 L1161.9,528.1 L1164.0,527.7 L1166.1,527.3 L1168.1,526.8 L1170.2,526.3 L1172.3,525.7 L1174.3,525.2 L1176.4,524.5 L1178.5,523.9 L1180.5,523.1 L1182.6,522.3 L1184.7,521.5 L1186.7,520.5 L1188.8,519.5 L1190.9,518.4 L1192.9,517.2 L1195.0,516.0 L1197.1,514.6 L1199.1,513.2 L1201.2,511.7 L1203.3,510.1 L1205.3,508.4 L1207.4,506.6 L1209.5,504.7 L1211.5,502.7 L1213.6,500.6 L1215.7,498.4 L1217.7,496.1 L1219.8,493.7 L1221.9,491.2 L1223.9,488.7 L1226.0,486.2 L1228.1,483.5 L1230.1,480.7 L1232.2,477.7 L1234.3,474.6 L1236.3,471.5 L1238.4,468.3 L1240.5,465.1 L1242.5,461.8 L1244.6,458.5 L1246.7,455.0 L1248.7,451.5 L1250.8,447.9 L1252.9,444.2 L1254.9,440.5 L1257.0,436.7 L1259.1,432.9 L1261.1,429.0 L1263.2,425.1 L1265.3,421.0 L1267.3,416.9 L1269.4,412.7 L1271.5,408.5 L1273.5,404.3 L1275.6,400.0 L1277.7,395.6 L1279.7,391.2 L1281.8,386.8 L1283.8,382.4 L1285.9,377.9 L1288.0,373.4 L1290.0,368.8 L1292.1,364.2 L1294.2,359.6 L1296.2,354.9 L1298.3,350.2 L1300.4,345.5 L1302.4,340.7 L1304.5,335.9 L1306.6,331.1 L1308.6,326.3 L1310.7,321.4 L1312.8,316.6 L1314.8,311.7 L1316.9,306.8 L1319.0,301.9 L1321.0,296.9 L1323.1,292.0 L1325.2,287.0 L1327.2,282.0 L1329.3,277.0 L1331.4,272.0 L1333.4,267.0 L1335.5,262.0 L1337.6,257.0 L1339.6,252.0 L1341.7,247.0 L1343.8,242.0 L1345.8,237.0 L1347.9,232.0 L1350.0,227.0 L1352.0,222.1 L1354.1,217.1 L1356.2,212.2 L1358.2,207.4 L1360.3,202.5 L1362.4,197.7 L1364.4,193.0 L1366.5,188.2 L1368.6,183.6 L1370.6,179.0 L1372.7,174.4 L1374.8,170.0 L1376.8,165.6 L1378.9,161.2 L1381.0,157.0 L1383.0,152.9 L1385.1,148.8 L1387.2,144.8 L1389.2,141.0 L1391.3,137.3 L1393.4,133.6 L1395.4,130.1 L1397.5,126.8 L1399.6,123.5 L1401.6,120.4 L1403.7,117.4 L1405.8,114.6 L1407.8,112.0 L1409.9,109.5 L1412.0,107.1 L1414.0,104.9 L1416.1,102.9 L1418.2,101.1 L1420.2,99.4 L1422.3,98.0 L1424.4,96.7 L1426.4,95.5 L1428.5,94.6 L1430.6,93.9 L1432.6,93.3 L1434.7,93.0 L1436.8,92.8 L1438.8,92.8 L1440.9,93.0 L1443.0,93.4 L1445.0,94.0 L1447.1,94.8 L1449.2,95.8 L1451.2,96.9 L1453.3,98.2 L1455.4,99.8 L1457.4,101.5 L1459.5,103.3 L1461.6,105.4 L1463.6,107.6 L1465.7,110.0 L1467.8,112.5 L1469.8,115.2 L1471.9,118.0 L1474.0,121.0 L1476.0,124.1 L1478.1,127.4 L1480.2,130.8 L1482.2,134.4 L1484.3,138.0 L1486.4,141.8 L1488.4,145.7 L1490.5,149.7 L1492.6,153.8 L1494.6,158.0 L1496.7,162.2 L1498.8,166.6 L1500.8,171.0 L1502.9,175.6 L1505.0,180.2 L1507.0,184.8 L1509.1,189.5 L1511.2,194.3 L1513.2,199.2 L1515.3,204.0 L1517.4,209.0 L1519.4,213.9 L1521.5,218.9 L1523.6,223.9 L1525.6,229.0 L1527.7,234.0 L1529.8,239.1 L1531.8,244.2 L1533.9,249.4 L1536.0,254.5 L1538.0,259.7 L1540.1,264.9 L1542.2,270.0 L1544.2,275.2 L1546.3,280.3 L1548.4,285.5 L1550.4,290.6 L1552.5,295.7 L1554.6,300.9 L1556.6,306.0 L1558.7,311.2 L1560.8,316.3 L1562.8,321.4 L1564.9,326.5 L1567.0,331.5 L1569.0,336.5 L1571.1,341.5 L1573.2,346.5 L1575.2,351.5 L1577.3,356.4 L1579.4,361.3 L1581.4,366.1 L1583.5,370.9 L1585.6,375.7 L1587.6,380.5 L1589.7,385.2" stroke="#bb2c2c" stroke-width="4.7" stroke-dasharray="17.4 7.5"/>
</g>
<rect x="971.8" y="16.7" width="617.9" height="523.7" fill="none" stroke="#bcbcbc" stroke-width="2.0"/>
<text transform="translate(936.48,554.50) scale(0.8879,1)" font-size="37.03" fill="#000" stroke="#fff" stroke-width="0.35">0</text>
<text transform="translate(897.63,467.22) scale(0.9256,1)" font-size="37.03" fill="#000" stroke="#fff" stroke-width="0.35">100</text>
<text transform="translate(898.51,379.93) scale(0.9110,1)" font-size="37.03" fill="#000" stroke="#fff" stroke-width="0.35">200</text>
<text transform="translate(898.94,292.65) scale(0.9038,1)" font-size="37.03" fill="#000" stroke="#fff" stroke-width="0.35">300</text>
<text transform="translate(899.45,205.37) scale(0.8954,1)" font-size="37.03" fill="#000" stroke="#fff" stroke-width="0.35">400</text>
<text transform="translate(898.86,118.08) scale(0.9052,1)" font-size="37.03" fill="#000" stroke="#fff" stroke-width="0.35">500</text>
<text transform="translate(898.51,30.00) scale(0.9110,1)" font-size="37.03" fill="#000" stroke="#fff" stroke-width="0.35">600</text>
<text transform="translate(960.71,584.90) scale(0.9388,1)" font-size="37.03" fill="#000" stroke="#fff" stroke-width="0.35">0</text>
<text transform="translate(1118.97,584.90) scale(0.9138,1)" font-size="37.03" fill="#000" stroke="#fff" stroke-width="0.35">20</text>
<text transform="translate(1287.49,584.90) scale(0.8898,1)" font-size="37.03" fill="#000" stroke="#fff" stroke-width="0.35">40</text>
<text transform="translate(1454.11,584.90) scale(0.9138,1)" font-size="37.03" fill="#000" stroke="#fff" stroke-width="0.35">60</text>
<text transform="translate(1230.58,642.40) scale(1.0289,1)" font-size="36.16" font-style="italic" font-family="DejaVu Sans, Liberation Sans, sans-serif" fill="#000">t</text>
<text transform="translate(1265.70,642.20) scale(0.9650,1)" stroke="#fff" stroke-width="0.5"><tspan x="-3.38" y="1.19" font-size="48.26">[</tspan><tspan x="9.51" y="0.00" font-size="37.21">ns</tspan><tspan x="47.29" y="1.19" font-size="48.26">]</tspan></text>
<text transform="translate(872.00,344.17) rotate(-90) scale(0.8832,1)" font-size="44.95" font-style="italic" fill="#000" stroke="#fff" stroke-width="0.5">V</text>
<text transform="translate(879.30,319.58) rotate(-90) scale(0.8205,1)" font-size="29.93" fill="#000" stroke="#fff" stroke-width="0.35">sh</text>
<text transform="translate(872.00,271.80) rotate(-90) scale(0.9035,1)" stroke="#fff" stroke-width="0.5"><tspan x="-3.38" y="1.19" font-size="48.26">[</tspan><tspan x="8.96" y="0.00" font-size="44.95">V</tspan><tspan x="38.58" y="1.19" font-size="48.26">]</tspan></text>
<rect x="1022.2" y="69.0" width="252.7" height="183.1" fill="#fff"/>
<path d="M1090.7,252.1V69.0M1159.3,252.1V69.0M1227.8,252.1V69.0M1022.2,95.2H1274.9M1022.2,147.5H1274.9M1022.2,199.8H1274.9M1022.2,252.1H1274.9" stroke="#a4a4a4" stroke-width="1.15" stroke-dasharray="4.3 1.9" fill="none"/>
<clipPath id="iclipb"><rect x="1022.2" y="69.0" width="252.7" height="183.1"/></clipPath>
<path clip-path="url(#iclipb)" d="M1022.2,167.5 L1022.6,169.5 L1023.0,171.3 L1023.5,172.8 L1023.9,174.0 L1024.3,174.7 L1024.7,175.0 L1025.2,174.7 L1025.6,173.8 L1026.0,172.5 L1026.4,171.0 L1026.8,169.4 L1027.3,167.7 L1027.7,165.9 L1028.1,164.1 L1028.5,162.4 L1028.9,160.8 L1029.4,159.3 L1029.8,158.1 L1030.2,156.9 L1030.6,155.7 L1031.1,154.5 L1031.5,153.4 L1031.9,152.4 L1032.3,151.3 L1032.7,150.4 L1033.2,149.6 L1033.6,148.8 L1034.0,148.1 L1034.4,147.6 L1034.9,147.6 L1035.3,148.0 L1035.7,148.6 L1036.1,149.5 L1036.5,150.6 L1037.0,151.7 L1037.4,152.8 L1037.8,153.7 L1038.2,154.4 L1038.7,154.9 L1039.1,155.0 L1039.5,154.6 L1039.9,153.9 L1040.3,152.9 L1040.8,151.8 L1041.2,150.6 L1041.6,149.3 L1042.0,148.1 L1042.4,146.9 L1042.9,145.9 L1043.3,145.2 L1043.7,144.7 L1044.1,144.4 L1044.6,144.3 L1045.0,144.3 L1045.4,144.4 L1045.8,144.4 L1046.2,144.5 L1046.7,144.5 L1047.1,144.4 L1047.5,144.2 L1047.9,143.7 L1048.4,143.0 L1048.8,142.1 L1049.2,140.9 L1049.6,139.6 L1050.0,138.2 L1050.5,136.8 L1050.9,135.5 L1051.3,134.3 L1051.7,133.2 L1052.2,132.4 L1052.6,131.9 L1053.0,131.8 L1053.4,132.0 L1053.8,132.6 L1054.3,133.4 L1054.7,134.3 L1055.1,135.4 L1055.5,136.5 L1055.9,137.5 L1056.4,138.4 L1056.8,139.2 L1057.2,139.6 L1057.6,139.8 L1058.1,139.5 L1058.5,138.9 L1058.9,138.1 L1059.3,137.2 L1059.7,136.2 L1060.2,135.2 L1060.6,134.3 L1061.0,133.6 L1061.4,133.2 L1061.9,133.1 L1062.3,133.4 L1062.7,134.0 L1063.1,134.8 L1063.5,135.7 L1064.0,136.7 L1064.4,137.7 L1064.8,138.5 L1065.2,139.2 L1065.7,139.7 L1066.1,139.8 L1066.5,139.4 L1066.9,138.7 L1067.3,137.6 L1067.8,136.2 L1068.2,134.8 L1068.6,133.4 L1069.0,132.1 L1069.4,131.1 L1069.9,130.3 L1070.3,130.1 L1070.7,130.3 L1071.1,130.6 L1071.6,131.1 L1072.0,131.7 L1072.4,132.3 L1072.8,133.0 L1073.2,133.5 L1073.7,134.0 L1074.1,134.3 L1074.5,134.4 L1074.9,134.3 L1075.4,134.2 L1075.8,134.0 L1076.2,133.8 L1076.6,133.7 L1077.0,133.7 L1077.5,133.8 L1077.9,134.1 L1078.3,134.7 L1078.7,135.4 L1079.2,136.1 L1079.6,137.0 L1080.0,137.8 L1080.4,138.7 L1080.8,139.5 L1081.3,140.1 L1081.7,140.6 L1082.1,141.0 L1082.5,141.1 L1082.9,141.1 L1083.4,141.0 L1083.8,140.7 L1084.2,140.2 L1084.6,139.5 L1085.1,138.6 L1085.5,137.4 L1085.9,136.0 L1086.3,134.3 L1086.7,132.4 L1087.2,130.5 L1087.6,128.5 L1088.0,126.4 L1088.4,124.3 L1088.9,122.2 L1089.3,120.0 L1089.7,117.8 L1090.1,115.6 L1090.5,113.3 L1091.0,111.1 L1091.4,108.7 L1091.8,106.4 L1092.2,104.0 L1092.7,101.5 L1093.1,99.0 L1093.5,96.6 L1093.9,94.1 L1094.3,91.7 L1094.8,89.4 L1095.2,87.1 L1095.6,84.9 L1096.0,83.0 L1096.4,81.5 L1096.9,80.2 L1097.3,79.2 L1097.7,78.5 L1098.1,77.9 L1098.6,77.4 L1099.0,77.1 L1099.4,77.0 L1099.8,77.3 L1100.2,77.9 L1100.7,79.0 L1101.1,80.4 L1101.5,82.1 L1101.9,84.3 L1102.4,86.7 L1102.8,89.4 L1103.2,92.2 L1103.6,95.3 L1104.0,98.6 L1104.5,102.1 L1104.9,105.9 L1105.3,110.0 L1105.7,114.3 L1106.2,119.0 L1106.6,123.9 L1107.0,129.1 L1107.4,134.3 L1107.8,139.6 L1108.3,144.8 L1108.7,149.7 L1109.1,154.4 L1109.5,159.0 L1109.9,163.6 L1110.4,168.0 L1110.8,172.3 L1111.2,176.3 L1111.6,180.1 L1112.1,183.5 L1112.5,186.7 L1112.9,189.6 L1113.3,192.3 L1113.7,194.9 L1114.2,197.3 L1114.6,199.7 L1115.0,202.0 L1115.4,204.3 L1115.9,206.7 L1116.3,209.0 L1116.7,211.1 L1117.1,213.2 L1117.5,215.1 L1118.0,216.9 L1118.4,218.6 L1118.8,220.1 L1119.2,221.6 L1119.7,222.7 L1120.1,222.7 L1120.5,221.4 L1120.9,219.2 L1121.3,216.4 L1121.8,213.2 L1122.2,209.8 L1122.6,206.5 L1123.0,203.7 L1123.4,201.5 L1123.9,200.2 L1124.3,200.3 L1124.7,202.3 L1125.1,205.7 L1125.6,209.8 L1126.0,214.0 L1126.4,217.8 L1126.8,220.6 L1127.2,221.7 L1127.7,220.5 L1128.1,217.1 L1128.5,211.9 L1128.9,205.5 L1129.4,198.6 L1129.8,191.8 L1130.2,185.5 L1130.6,180.5 L1131.0,177.3 L1131.5,176.4 L1131.9,177.8 L1132.3,180.2 L1132.7,183.2 L1133.2,186.5 L1133.6,189.7 L1134.0,192.4 L1134.4,194.3 L1134.8,195.1 L1135.3,195.4 L1135.7,195.5 L1136.1,195.6 L1136.5,196.0 L1136.9,197.0 L1137.4,198.9 L1137.8,201.8 L1138.2,205.3 L1138.6,209.2 L1139.1,213.3 L1139.5,217.3 L1139.9,221.0 L1140.3,224.1 L1140.7,226.5 L1141.2,227.7 L1141.6,228.2 L1142.0,228.3 L1142.4,228.0 L1142.9,227.5 L1143.3,226.7 L1143.7,225.8 L1144.1,224.8 L1144.5,223.8 L1145.0,222.7 L1145.4,221.7 L1145.8,220.9 L1146.2,220.2 L1146.7,219.8 L1147.1,219.7 L1147.5,219.9 L1147.9,220.5 L1148.3,221.3 L1148.8,222.3 L1149.2,223.5 L1149.6,224.6 L1150.0,225.8 L1150.4,226.8 L1150.9,227.7 L1151.3,228.3 L1151.7,228.6 L1152.1,228.6 L1152.6,228.4 L1153.0,228.0 L1153.4,227.6 L1153.8,227.0 L1154.2,226.3 L1154.7,225.5 L1155.1,224.6 L1155.5,223.5 L1155.9,222.4 L1156.4,221.0 L1156.8,219.6 L1157.2,218.2 L1157.6,216.7 L1158.0,215.3 L1158.5,213.9 L1158.9,212.7 L1159.3,211.6 L1159.7,210.7 L1160.2,209.8 L1160.6,209.1 L1161.0,208.4 L1161.4,207.7 L1161.8,207.1 L1162.3,206.4 L1162.7,205.8 L1163.1,205.1 L1163.5,204.4 L1163.9,203.6 L1164.4,202.8 L1164.8,201.8 L1165.2,200.7 L1165.6,199.5 L1166.1,198.1 L1166.5,196.7 L1166.9,195.2 L1167.3,193.8 L1167.7,192.4 L1168.2,191.1 L1168.6,189.9 L1169.0,188.9 L1169.4,188.1 L1169.9,187.5 L1170.3,187.0 L1170.7,186.7 L1171.1,186.4 L1171.5,186.1 L1172.0,185.9 L1172.4,185.6 L1172.8,185.2 L1173.2,184.8 L1173.7,184.1 L1174.1,183.4 L1174.5,182.6 L1174.9,181.7 L1175.3,180.8 L1175.8,179.8 L1176.2,178.8 L1176.6,177.9 L1177.0,176.9 L1177.4,176.0 L1177.9,175.1 L1178.3,174.3 L1178.7,173.5 L1179.1,172.9 L1179.6,172.3 L1180.0,171.7 L1180.4,171.1 L1180.8,170.5 L1181.2,170.0 L1181.7,169.4 L1182.1,168.9 L1182.5,168.4 L1182.9,167.9 L1183.4,167.4 L1183.8,167.0 L1184.2,166.5 L1184.6,166.1 L1185.0,165.7 L1185.5,165.3 L1185.9,164.9 L1186.3,164.6 L1186.7,164.2 L1187.2,163.9 L1187.6,163.6 L1188.0,163.4 L1188.4,163.1 L1188.8,162.8 L1189.3,162.5 L1189.7,162.3 L1190.1,162.0 L1190.5,161.8 L1190.9,161.5 L1191.4,161.3 L1191.8,161.0 L1192.2,160.8 L1192.6,160.6 L1193.1,160.4 L1193.5,160.2 L1193.9,160.0 L1194.3,159.8 L1194.7,159.6 L1195.2,159.4 L1195.6,159.3 L1196.0,159.1 L1196.4,159.0 L1196.9,158.8 L1197.3,158.7 L1197.7,158.6 L1198.1,158.4 L1198.5,158.3 L1199.0,158.1 L1199.4,158.0 L1199.8,157.8 L1200.2,157.7 L1200.7,157.5 L1201.1,157.4 L1201.5,157.3 L1201.9,157.1 L1202.3,157.0 L1202.8,156.9 L1203.2,156.8 L1203.6,156.6 L1204.0,156.5 L1204.4,156.4 L1204.9,156.3 L1205.3,156.3 L1205.7,156.2 L1206.1,156.1 L1206.6,156.1 L1207.0,156.0 L1207.4,156.0 L1207.8,156.0 L1208.2,156.0 L1208.7,156.0 L1209.1,156.0 L1209.5,156.0 L1209.9,156.1 L1210.4,156.1 L1210.8,156.2 L1211.2,156.3 L1211.6,156.4 L1212.0,156.5 L1212.5,156.6 L1212.9,156.7 L1213.3,156.8 L1213.7,156.9 L1214.2,157.0 L1214.6,157.1 L1215.0,157.3 L1215.4,157.4 L1215.8,157.5 L1216.3,157.6 L1216.7,157.7 L1217.1,157.8 L1217.5,157.9 L1217.9,158.1 L1218.4,158.2 L1218.8,158.3 L1219.2,158.4 L1219.6,158.5 L1220.1,158.6 L1220.5,158.8 L1220.9,158.9 L1221.3,159.0 L1221.7,159.1 L1222.2,159.2 L1222.6,159.3 L1223.0,159.4 L1223.4,159.5 L1223.9,159.7 L1224.3,159.8 L1224.7,159.9 L1225.1,160.0 L1225.5,160.1 L1226.0,160.2 L1226.4,160.3 L1226.8,160.4 L1227.2,160.5 L1227.7,160.6 L1228.1,160.7 L1228.5,160.8 L1228.9,160.9 L1229.3,161.0 L1229.8,161.1 L1230.2,161.3 L1230.6,161.4 L1231.0,161.5 L1231.4,161.6 L1231.9,161.7 L1232.3,161.8 L1232.7,161.9 L1233.1,162.0 L1233.6,162.1 L1234.0,162.2 L1234.4,162.3 L1234.8,162.4 L1235.2,162.5 L1235.7,162.6 L1236.1,162.7 L1236.5,162.8 L1236.9,162.9 L1237.4,163.0 L1237.8,163.2 L1238.2,163.3 L1238.6,163.5 L1239.0,163.6 L1239.5,163.8 L1239.9,164.0 L1240.3,164.1 L1240.7,164.3 L1241.2,164.5 L1241.6,164.7 L1242.0,164.9 L1242.4,165.1 L1242.8,165.3 L1243.3,165.6 L1243.7,165.8 L1244.1,166.0 L1244.5,166.2 L1244.9,166.4 L1245.4,166.6 L1245.8,166.8 L1246.2,166.9 L1246.6,167.1 L1247.1,167.3 L1247.5,167.4 L1247.9,167.5 L1248.3,167.3 L1248.7,166.9 L1249.2,166.4 L1249.6,165.8 L1250.0,165.2 L1250.4,164.7 L1250.9,164.2 L1251.3,163.9 L1251.7,163.9 L1252.1,164.3 L1252.5,165.2 L1253.0,166.4 L1253.4,167.9 L1253.8,169.4 L1254.2,170.9 L1254.7,172.3 L1255.1,173.6 L1255.5,174.5 L1255.9,175.0 L1256.3,174.8 L1256.8,173.9 L1257.2,172.4 L1257.6,170.5 L1258.0,168.4 L1258.4,166.5 L1258.9,164.7 L1259.3,163.5 L1259.7,162.9 L1260.1,163.2 L1260.6,164.0 L1261.0,165.1 L1261.4,166.5 L1261.8,168.0 L1262.2,169.6 L1262.7,171.2 L1263.1,172.5 L1263.5,173.6 L1263.9,174.3 L1264.4,174.5 L1264.8,174.7 L1265.2,174.8 L1265.6,174.9 L1266.0,174.9 L1266.5,174.8 L1266.9,174.7 L1267.3,174.5 L1267.7,174.2 L1268.2,173.8 L1268.6,173.4 L1269.0,172.8 L1269.4,172.2 L1269.8,171.4 L1270.3,170.2 L1270.7,168.7 L1271.1,167.2 L1271.5,165.7 L1271.9,164.3 L1272.4,163.3 L1272.8,162.6 L1273.2,162.3 L1273.6,162.3 L1274.1,162.6 L1274.5,163.1 L1274.9,163.9" stroke="#55a040" stroke-width="2.8" fill="none" stroke-linejoin="round"/>
<path d="M1022.2,252.1v-7.5M1022.2,69.0v7.5M1090.7,252.1v-7.5M1090.7,69.0v7.5M1159.3,252.1v-7.5M1159.3,69.0v7.5M1227.8,252.1v-7.5M1227.8,69.0v7.5M1022.2,95.2h7.5M1274.9,95.2h-7.5M1022.2,147.5h7.5M1274.9,147.5h-7.5M1022.2,199.8h7.5M1274.9,199.8h-7.5M1022.2,252.1h7.5M1274.9,252.1h-7.5" stroke="#000" stroke-width="2.3" fill="none"/>
<rect x="1022.2" y="69.0" width="252.7" height="183.1" fill="none" stroke="#bcbcbc" stroke-width="1.8"/>
<text transform="translate(1013.25,288.80) scale(0.9183,1)" font-size="27.14" fill="#000" stroke="#eeeeee" stroke-width="0.3">0</text>
<text transform="translate(1074.51,288.80) scale(0.9334,1)" font-size="27.14" fill="#000" stroke="#eeeeee" stroke-width="0.3">20</text>
<text transform="translate(1143.75,288.80) scale(0.9089,1)" font-size="27.14" fill="#000" stroke="#eeeeee" stroke-width="0.3">40</text>
<text transform="translate(1211.57,288.80) scale(0.9334,1)" font-size="27.14" fill="#000" stroke="#eeeeee" stroke-width="0.3">60</text>
<text transform="translate(1286.86,105.06) scale(0.9557,1)" font-size="27.14" fill="#000" stroke="#eeeeee" stroke-width="0.3">0.4</text>
<text transform="translate(1286.85,157.37) scale(0.9630,1)" font-size="27.14" fill="#000" stroke="#eeeeee" stroke-width="0.3">0.0</text>
<text transform="translate(1282.70,209.69) scale(0.9804,1)" font-size="27.14" fill="#000" stroke="#eeeeee" stroke-width="0.3">-0.4</text>
<text transform="translate(1282.69,262.00) scale(0.9894,1)" font-size="27.14" fill="#000" stroke="#eeeeee" stroke-width="0.3">-0.8</text>
<text transform="translate(1115.50,53.60) scale(1.0480,1)" font-size="23.49" font-style="italic" font-family="DejaVu Sans, Liberation Sans, sans-serif" fill="#000">t</text>
<text transform="translate(1139.10,53.50) scale(0.8735,1)" stroke="#eeeeee" stroke-width="0.3"><tspan x="-2.08" y="-0.06" font-size="29.71">[</tspan><tspan x="5.95" y="0.00" font-size="27.16">ns</tspan><tspan x="34.02" y="-0.06" font-size="29.71">]</tspan></text>
<text transform="translate(1003.30,212.72) rotate(-90) scale(1.0318,1)" font-size="29.67" fill="#000" stroke="#eeeeee" stroke-width="0.3">Δ</text>
<text transform="translate(1003.30,188.04) rotate(-90) scale(0.8611,1)" font-size="29.67" font-style="italic" fill="#000" stroke="#eeeeee" stroke-width="0.3">V</text>
<text transform="translate(1007.50,172.55) rotate(-90) scale(0.8728,1)" font-size="18.76" fill="#000" stroke="#eeeeee" stroke-width="0.25">sh</text>
<text transform="translate(1003.30,141.60) rotate(-90) scale(0.8714,1)" stroke="#eeeeee" stroke-width="0.3"><tspan x="-2.08" y="-0.06" font-size="29.71">[</tspan><tspan x="6.05" y="0.00" font-size="29.67">V</tspan><tspan x="26.43" y="-0.06" font-size="29.71">]</tspan></text>
<rect x="1324.0" y="413.7" width="265.3" height="126.6" rx="4.5" fill="#eeeeee" stroke="#d0d0d0" stroke-width="1.2"/>
<path d="M1342.6,448.9H1404.5" stroke="#4878b8" stroke-width="4.7"/>
<path d="M1344.9,500.6H1402.2" stroke="#bb2c2c" stroke-width="4.7" stroke-dasharray="17.4 7.5"/>
<text transform="translate(1419.74,461.00) scale(0.9634,1)" font-size="35.93" fill="#000" stroke="#eeeeee" stroke-width="0.35">PIC/MCC</text>
<text transform="translate(1421.77,512.60) scale(0.8855,1)" font-size="35.93" fill="#000" stroke="#eeeeee" stroke-width="0.35">SSM</text>
<rect x="1504.7" y="16.4" width="84.9" height="84.8" fill="#fff" stroke="#000" stroke-width="1.1"/>
<text transform="translate(1523.70,71.00) scale(0.9789,1)"><tspan x="-3.00" y="0.00" font-size="46.12" font-weight="bold">b</tspan><tspan x="27.42" y="1.58" font-size="49.76" font-weight="bold">)</tspan></text>
</g>
</svg>
</body></html>
